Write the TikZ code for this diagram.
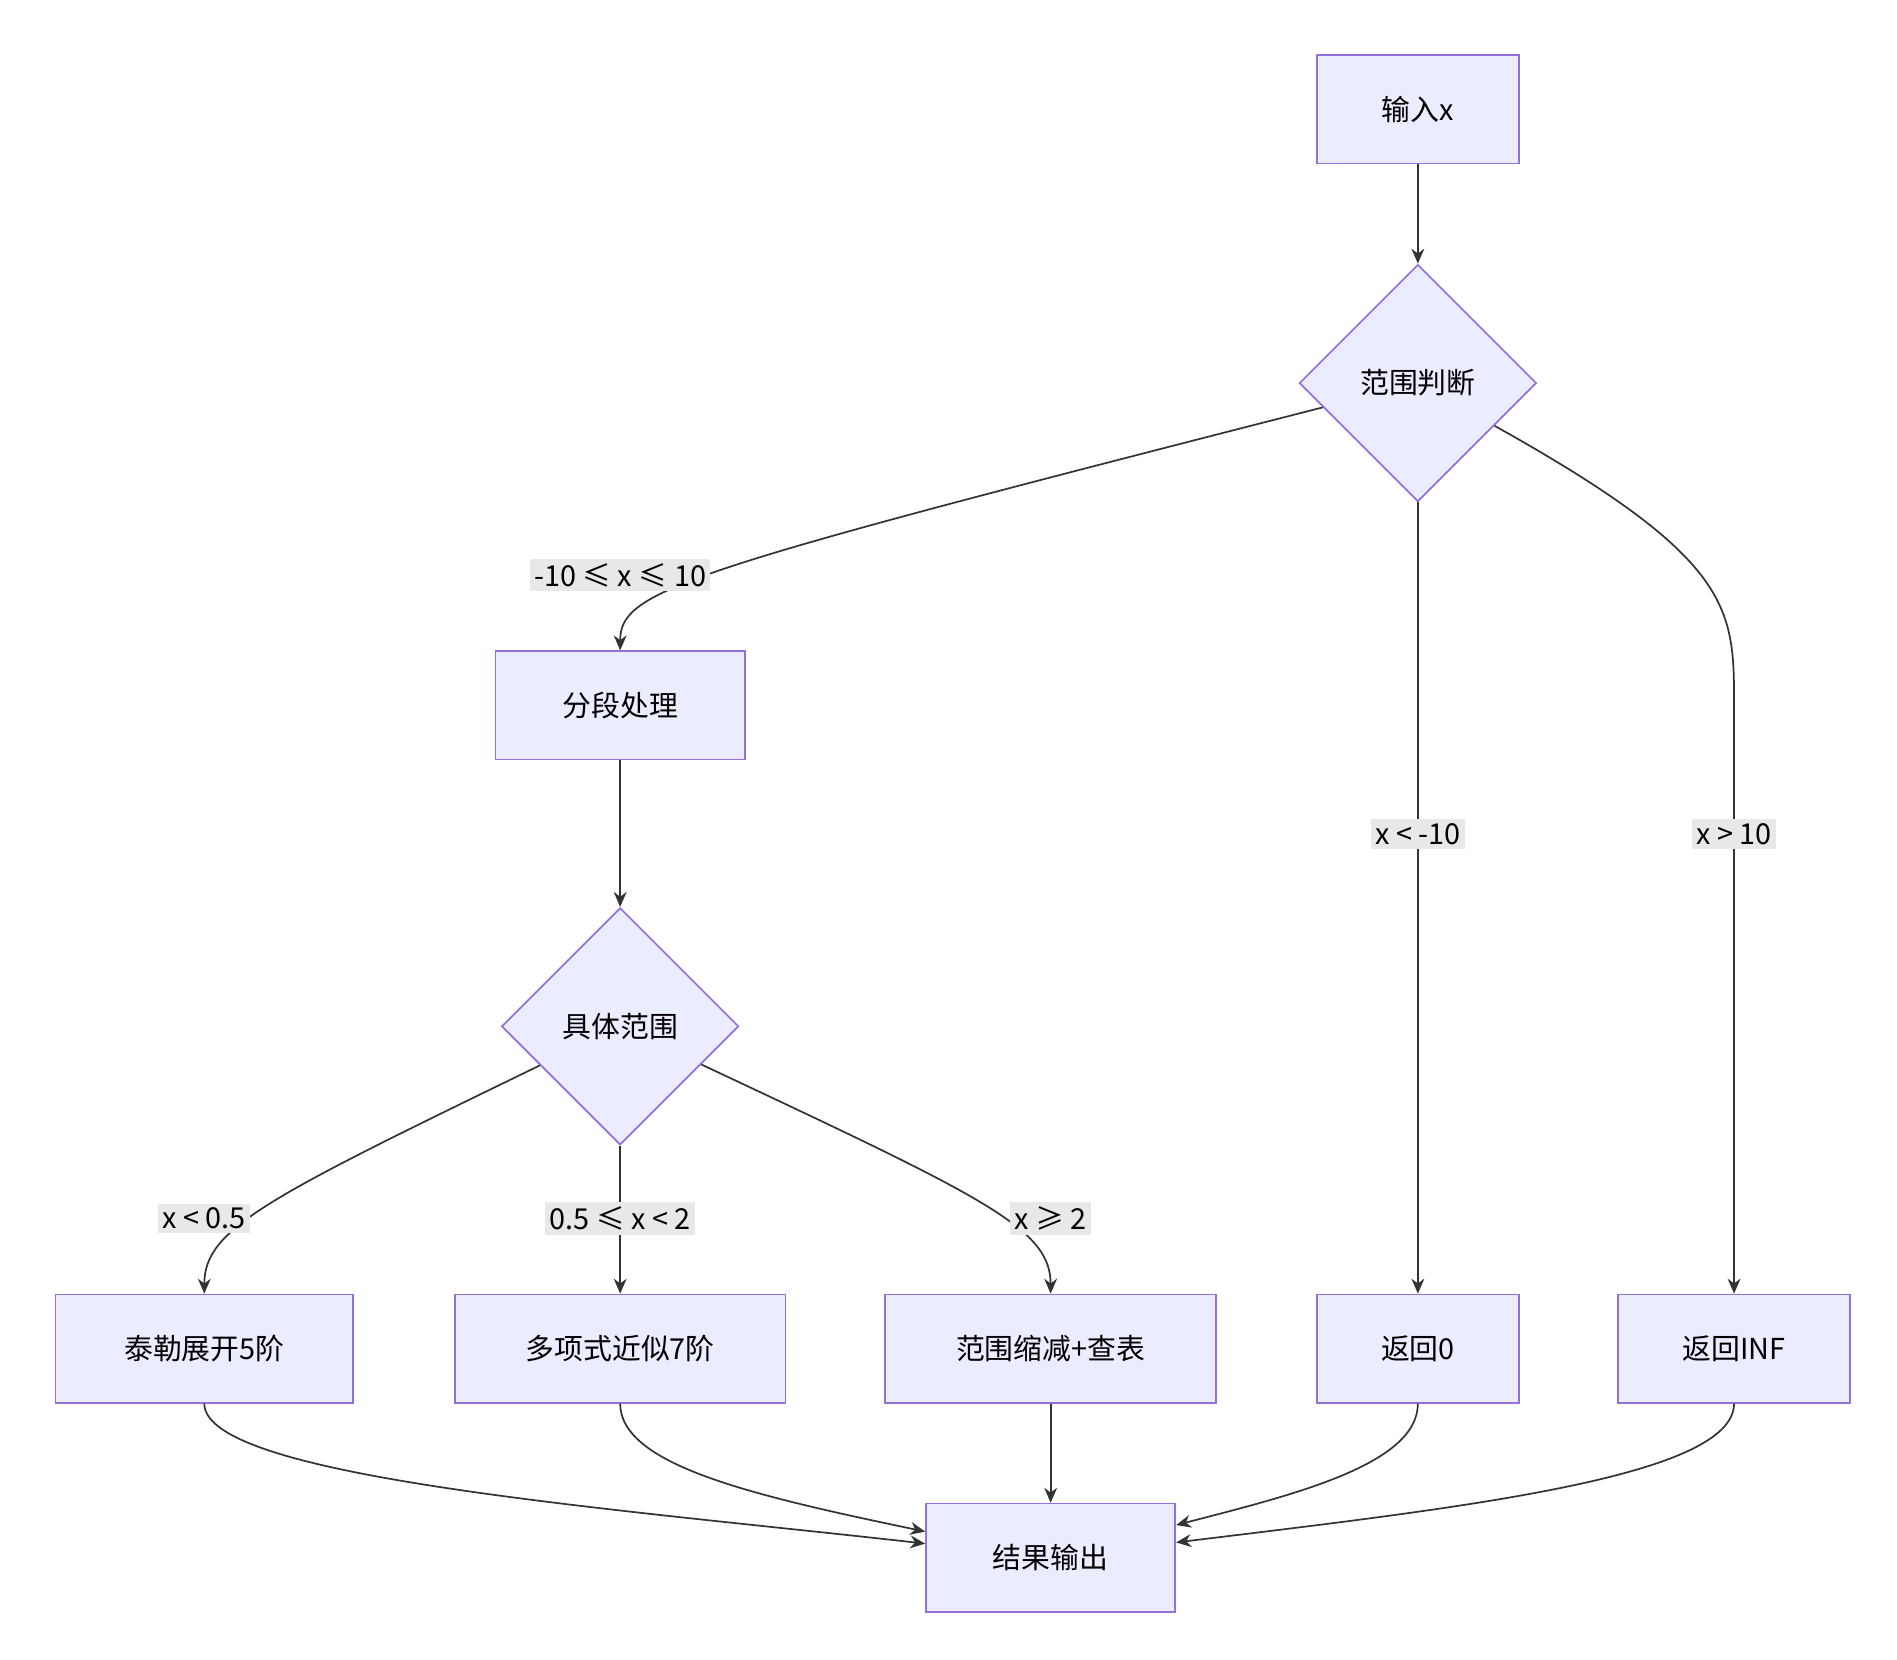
\documentclass[tikz,border=0pt]{standalone}
\usepackage{fontspec}
\setmainfont{Noto Sans CJK SC}
\usetikzlibrary{shapes.geometric, arrows.meta}
\definecolor{boxfill}{HTML}{ECECFF}
\definecolor{boxline}{HTML}{9370DB}
\definecolor{edge}{HTML}{333333}
\definecolor{labelbg}{HTML}{E8E8E8}
\begin{document}
\begin{tikzpicture}[
    x=0.02cm, y=-0.02cm,
    >={Stealth[length=7pt,width=6pt]},
    box/.style={
        rectangle,
        draw=boxline,
        fill=boxfill,
        line width=0.8pt,
        minimum height=1.78cm,
        align=center,
        font=\fontsize{13.5}{16}\selectfont
    },
    decision/.style={
        diamond,
        draw=boxline,
        fill=boxfill,
        line width=0.8pt,
        minimum width=3.9cm,
        minimum height=3.9cm,
        inner sep=0pt,
        font=\fontsize{13.5}{16}\selectfont
    },
    cond/.style={
        fill=labelbg,
        inner sep=2pt,
        font=\fontsize{13.5}{16}\selectfont
    },
    arrow/.style={->, draw=edge, line width=0.8pt}
]
\useasboundingbox (0,0) rectangle (1560,1365);

% Top
\node[box, minimum width=3.32cm] (input) at (1166,90) {输入x};
\node[decision] (range) at (1166,315) {范围判断};

% Middle branch
\node[box, minimum width=4.1cm] (segment) at (510,580) {分段处理};
\node[decision] (detail) at (510,844) {具体范围};

% Bottom row
\node[box, minimum width=4.9cm] (taylor) at (168,1109) {泰勒展开5阶};
\node[box, minimum width=5.44cm] (poly) at (510,1109) {多项式近似7阶};
\node[box, minimum width=5.44cm] (reduce) at (864,1109) {范围缩减+查表};
\node[box, minimum width=3.32cm] (zero) at (1166,1109) {返回0};
\node[box, minimum width=3.82cm] (inf) at (1426,1109) {返回INF};

% Output
\node[box, minimum width=4.1cm] (result) at (864,1281) {结果输出};

% Arrows
\draw[arrow] (input) -- (range);
\draw[arrow] (range) .. controls (560,470) and (510,485) .. (segment);
\draw[arrow] (range) -- (zero);
\draw[arrow] (range) .. controls (1426,460) and (1426,500) .. (1426,580) -- (inf);
\draw[arrow] (segment) -- (detail);
\draw[arrow] (detail) .. controls (220,985) and (168,1010) .. (taylor);
\draw[arrow] (detail) -- (poly);
\draw[arrow] (detail) .. controls (810,985) and (864,1010) .. (reduce);
\draw[arrow] (taylor) .. controls (168,1215) and (500,1240) .. (result);
\draw[arrow] (poly) .. controls (510,1205) and (620,1230) .. (result);
\draw[arrow] (reduce) -- (result);
\draw[arrow] (zero) .. controls (1166,1205) and (1060,1230) .. (result);
\draw[arrow] (inf) .. controls (1426,1215) and (1200,1240) .. (result);

% Labels
\node[cond] (c1) at (510,473) {-10 ≤ x ≤ 10};
\node[cond] (c2) at (1166,686) {x < -10};
\node[cond] (c3) at (1426,686) {x > 10};
\node[cond] (c4) at (168,1002) {x < 0.5};
\node[cond] (c5) at (510,1002) {0.5 ≤ x < 2};
\node[cond] (c6) at (864,1002) {x ≥ 2};

\end{tikzpicture}
\end{document}
